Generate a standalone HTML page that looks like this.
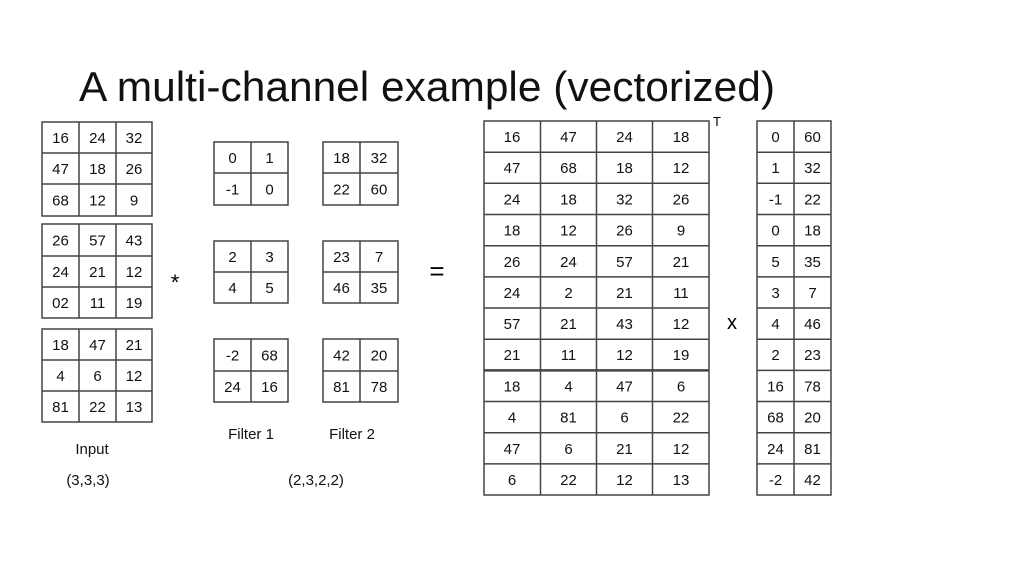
<!DOCTYPE html>
<html><head><meta charset="utf-8"><style>html,body{margin:0;padding:0;background:#fff}svg{display:block}</style></head>
<body>
<svg width="1024" height="576" xmlns="http://www.w3.org/2000/svg" font-family="'Liberation Sans', sans-serif">
<rect width="1024" height="576" fill="#fff"/>
<text x="79" y="101" font-size="42" textLength="696" lengthAdjust="spacingAndGlyphs" fill="#111">A multi-channel example (vectorized)</text>

<g stroke="#444" stroke-width="1.5" fill="none">
<!-- input -->
<path d="M42 122H152V216H42Z M79 122V216 M116 122V216 M42 153H152 M42 184H152"/>
<path d="M42 224H152V318H42Z M79 224V318 M116 224V318 M42 256H152 M42 287H152"/>
<path d="M42 329H152V422H42Z M79 329V422 M116 329V422 M42 360H152 M42 391H152"/>
<!-- filters -->
<path d="M214 142H288V205H214Z M251 142V205 M214 173H288"/>
<path d="M323 142H398V205H323Z M360 142V205 M323 173H398"/>
<path d="M214 241H288V303H214Z M251 241V303 M214 272H288"/>
<path d="M323 241H398V303H323Z M360 241V303 M323 272H398"/>
<path d="M214 339H288V402H214Z M251 339V402 M214 371H288"/>
<path d="M323 339H398V402H323Z M360 339V402 M323 371H398"/>
<!-- big table -->
<path d="M484 121H709V495H484Z M540.5 121V495 M596.5 121V495 M652.5 121V495
M484 152.2H709 M484 183.3H709 M484 214.5H709 M484 245.7H709 M484 276.9H709 M484 308H709 M484 339.2H709 M484 401.5H709 M484 432.7H709 M484 463.9H709"/>
<path d="M484 370.4H709" stroke-width="2.5"/>
<!-- right table -->
<path d="M757 121H831V495H757Z M794 121V495
M757 152.2H831 M757 183.3H831 M757 214.5H831 M757 245.7H831 M757 276.9H831 M757 308H831 M757 339.2H831 M757 370.4H831 M757 401.5H831 M757 432.7H831 M757 463.9H831"/>
</g>

<g font-size="15" fill="#111" text-anchor="middle">
<!-- input block 1 -->
<text x="60.5" y="143">16</text><text x="97.5" y="143">24</text><text x="134" y="143">32</text>
<text x="60.5" y="174">47</text><text x="97.5" y="174">18</text><text x="134" y="174">26</text>
<text x="60.5" y="205.5">68</text><text x="97.5" y="205.5">12</text><text x="134" y="205.5">9</text>
<!-- input block 2 -->
<text x="60.5" y="245.5">26</text><text x="97.5" y="245.5">57</text><text x="134" y="245.5">43</text>
<text x="60.5" y="277">24</text><text x="97.5" y="277">21</text><text x="134" y="277">12</text>
<text x="60.5" y="308">02</text><text x="97.5" y="308">11</text><text x="134" y="308">19</text>
<!-- input block 3 -->
<text x="60.5" y="350">18</text><text x="97.5" y="350">47</text><text x="134" y="350">21</text>
<text x="60.5" y="381">4</text><text x="97.5" y="381">6</text><text x="134" y="381">12</text>
<text x="60.5" y="412">81</text><text x="97.5" y="412">22</text><text x="134" y="412">13</text>
<!-- filters -->
<text x="232.5" y="163">0</text><text x="269.5" y="163">1</text>
<text x="232.5" y="194.5">-1</text><text x="269.5" y="194.5">0</text>
<text x="341.5" y="163">18</text><text x="379" y="163">32</text>
<text x="341.5" y="194.5">22</text><text x="379" y="194.5">60</text>
<text x="232.5" y="262">2</text><text x="269.5" y="262">3</text>
<text x="232.5" y="293">4</text><text x="269.5" y="293">5</text>
<text x="341.5" y="262">23</text><text x="379" y="262">7</text>
<text x="341.5" y="293">46</text><text x="379" y="293">35</text>
<text x="232.5" y="360.5">-2</text><text x="269.5" y="360.5">68</text>
<text x="232.5" y="392">24</text><text x="269.5" y="392">16</text>
<text x="341.5" y="360.5">42</text><text x="379" y="360.5">20</text>
<text x="341.5" y="392">81</text><text x="379" y="392">78</text>
<!-- big table -->
<text x="512" y="142">16</text><text x="568.5" y="142">47</text><text x="624.5" y="142">24</text><text x="681" y="142">18</text>
<text x="512" y="173">47</text><text x="568.5" y="173">68</text><text x="624.5" y="173">18</text><text x="681" y="173">12</text>
<text x="512" y="204.5">24</text><text x="568.5" y="204.5">18</text><text x="624.5" y="204.5">32</text><text x="681" y="204.5">26</text>
<text x="512" y="235.5">18</text><text x="568.5" y="235.5">12</text><text x="624.5" y="235.5">26</text><text x="681" y="235.5">9</text>
<text x="512" y="267">26</text><text x="568.5" y="267">24</text><text x="624.5" y="267">57</text><text x="681" y="267">21</text>
<text x="512" y="298">24</text><text x="568.5" y="298">2</text><text x="624.5" y="298">21</text><text x="681" y="298">11</text>
<text x="512" y="329">57</text><text x="568.5" y="329">21</text><text x="624.5" y="329">43</text><text x="681" y="329">12</text>
<text x="512" y="360">21</text><text x="568.5" y="360">11</text><text x="624.5" y="360">12</text><text x="681" y="360">19</text>
<text x="512" y="391.5">18</text><text x="568.5" y="391.5">4</text><text x="624.5" y="391.5">47</text><text x="681" y="391.5">6</text>
<text x="512" y="422.5">4</text><text x="568.5" y="422.5">81</text><text x="624.5" y="422.5">6</text><text x="681" y="422.5">22</text>
<text x="512" y="454">47</text><text x="568.5" y="454">6</text><text x="624.5" y="454">21</text><text x="681" y="454">12</text>
<text x="512" y="485">6</text><text x="568.5" y="485">22</text><text x="624.5" y="485">12</text><text x="681" y="485">13</text>
<!-- right table -->
<text x="775.5" y="142">0</text><text x="812.5" y="142">60</text>
<text x="775.5" y="173">1</text><text x="812.5" y="173">32</text>
<text x="775.5" y="204.5">-1</text><text x="812.5" y="204.5">22</text>
<text x="775.5" y="235.5">0</text><text x="812.5" y="235.5">18</text>
<text x="775.5" y="267">5</text><text x="812.5" y="267">35</text>
<text x="775.5" y="298">3</text><text x="812.5" y="298">7</text>
<text x="775.5" y="329">4</text><text x="812.5" y="329">46</text>
<text x="775.5" y="360">2</text><text x="812.5" y="360">23</text>
<text x="775.5" y="391.5">16</text><text x="812.5" y="391.5">78</text>
<text x="775.5" y="422.5">68</text><text x="812.5" y="422.5">20</text>
<text x="775.5" y="454">24</text><text x="812.5" y="454">81</text>
<text x="775.5" y="485">-2</text><text x="812.5" y="485">42</text>
<!-- labels -->
<text x="92" y="454">Input</text>
<text x="88" y="485">(3,3,3)</text>
<text x="251" y="439">Filter 1</text>
<text x="352" y="439">Filter 2</text>
<text x="316" y="485">(2,3,2,2)</text>
</g>
<text x="175" y="290" font-size="22" text-anchor="middle">*</text>
<text x="437" y="280" font-size="26" text-anchor="middle">=</text>
<text x="732" y="329" font-size="20" text-anchor="middle">x</text>
<text x="717" y="126" font-size="13" text-anchor="middle">T</text>
</svg>
</body></html>
